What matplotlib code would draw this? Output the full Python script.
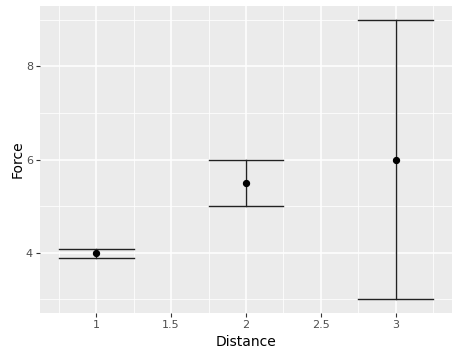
import numpy as np
import matplotlib.pyplot as plt

distance = [1, 2, 3]
force = [4, 5.5, 6]
lower = [3.88, 5, 3]
upper = [4.08, 6, 9]

fig = plt.figure(figsize=(4.74, 3.54), dpi=100)
ax = fig.add_axes([40/474, 1 - 313/354, 412/474, 307/354])
ax.set_facecolor('#ebebeb')

ax.set_xlim(0.625, 3.375)
ax.set_ylim(2.7, 9.3)
ax.set_xticks([1, 1.5, 2, 2.5, 3])
ax.set_xticklabels(['1', '1.5', '2', '2.5', '3'])
ax.set_yticks([4, 6, 8])
ax.set_xticks([0.75, 1.25, 1.75, 2.25, 2.75, 3.25], minor=True)
ax.set_yticks([3, 5, 7, 9], minor=True)
ax.grid(which='major', color='white', linewidth=1.1)
ax.grid(which='minor', color='white', linewidth=0.55)
ax.set_axisbelow(True)
for s in ax.spines.values():
    s.set_visible(False)
ax.tick_params(which='major', length=3, width=0.8, color='#333333',
               labelcolor='#4d4d4d', labelsize=8, pad=2)
ax.tick_params(which='minor', length=0)

# error bars
for x, lo, hi in zip(distance, lower, upper):
    ax.plot([x, x], [lo, hi], color='#222222', lw=1, zorder=2)
    ax.plot([x - 0.25, x + 0.25], [lo, lo], color='#222222', lw=1, zorder=2)
    ax.plot([x - 0.25, x + 0.25], [hi, hi], color='#222222', lw=1, zorder=2)
ax.scatter(distance, force, color='black', s=18, zorder=3)

ax.set_xlabel('Distance', fontsize=10, labelpad=4)
ax.set_ylabel('Force', fontsize=10, labelpad=1)

fig.savefig('out.png', dpi=100)
